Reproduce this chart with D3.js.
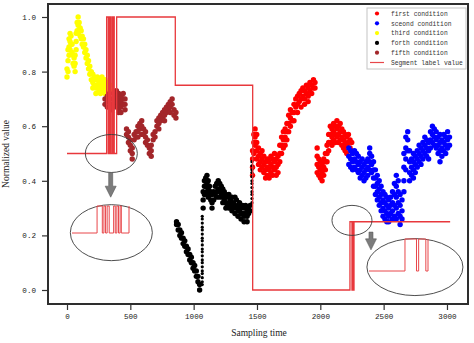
<!DOCTYPE html>
<html>
<head>
<meta charset="utf-8">
<script src="https://cdn.jsdelivr.net/npm/d3@7"></script>
<style>
  body { margin: 0; background: #fff; }
  svg { display: block; }
</style>
</head>
<body>
<svg id="chart" width="474" height="343"></svg>
<script>
// ---- axis ticks and legend text ----
const xTicks = [0, 500, 1000, 1500, 2000, 2500, 3000];
const yTicks = [0.0, 0.2, 0.4, 0.6, 0.8, 1.0];
const seriesNames = ["first condition", "sceond condition", "third condition", "forth condition", "fifth condition"];
const seriesColors = ["#ff0000", "#0000ff", "#ffff00", "#000000", "#a3262a"];
const lineName = "Segment label value";

// ---- samples: each row is [sampling time, value, value, ...] ----
const firstCondition = [
  [1465,0.42,0.45,0.48,0.51],[1475,0.54,0.57,0.50],[1485,0.59,0.56,0.53],[1498,0.57,0.54,0.51,0.48],
  [1512,0.52,0.49,0.46],[1526,0.50,0.47,0.44],[1540,0.48,0.45,0.51],[1554,0.46,0.43,0.49],
  [1568,0.47,0.44,0.41],[1582,0.45,0.42,0.48],[1596,0.47,0.44,0.41],[1610,0.46,0.43,0.49],
  [1624,0.48,0.45,0.42],[1638,0.47,0.44,0.50],[1652,0.45,0.42,0.48],[1666,0.49,0.46,0.43],
  [1680,0.53,0.50,0.47],[1694,0.56,0.53,0.50],[1708,0.58,0.55,0.52],[1722,0.59,0.56,0.53],
  [1736,0.61,0.58,0.55],[1750,0.64,0.61,0.58],[1764,0.66,0.63,0.60],[1778,0.65,0.62],
  [1792,0.68,0.65,0.62],[1806,0.70,0.67],[1820,0.71,0.68,0.65],[1834,0.72,0.69],
  [1848,0.73,0.70,0.67],[1862,0.74,0.71],[1876,0.73,0.70,0.68],[1890,0.75,0.72],
  [1904,0.74,0.71,0.69],[1918,0.76,0.73],[1932,0.75,0.72],[1946,0.77,0.74],[1958,0.76,0.74],
  [1975,0.52,0.49,0.46,0.43],[1988,0.48,0.45,0.42],[2001,0.47,0.44,0.41],[2014,0.46,0.43,0.40],
  [2027,0.45,0.42,0.48],[2040,0.47,0.44,0.50],[2053,0.50,0.53,0.47],[2066,0.54,0.51,0.57],
  [2079,0.57,0.54,0.60],[2092,0.59,0.56,0.53],[2105,0.61,0.58,0.55],[2118,0.60,0.57,0.54],
  [2131,0.62,0.59,0.56],[2144,0.60,0.57,0.54],[2157,0.61,0.58,0.55],[2170,0.59,0.56,0.53],
  [2183,0.58,0.55,0.52],[2196,0.57,0.54,0.51],[2209,0.56,0.53,0.50],[2222,0.57,0.54],
  [2235,0.55,0.52],[2248,0.54,0.51]
];
const secondCondition = [
  [2225,0.49,0.46,0.52],[2240,0.48,0.45,0.51],[2255,0.50,0.47,0.44],[2270,0.48,0.45,0.51],
  [2285,0.47,0.44,0.50],[2300,0.46,0.43,0.49],[2315,0.47,0.44,0.41],[2330,0.45,0.42,0.48],
  [2345,0.46,0.43,0.40],[2360,0.47,0.44,0.41],[2375,0.45,0.42,0.48],[2390,0.50,0.47,0.52,0.44],
  [2405,0.49,0.46,0.43],[2420,0.47,0.44,0.41,0.38],[2435,0.44,0.41,0.38,0.35],[2450,0.42,0.39,0.36,0.33],
  [2465,0.40,0.37,0.34,0.31],[2480,0.38,0.35,0.32,0.29],[2495,0.36,0.33,0.30,0.27],[2510,0.35,0.32,0.29,0.26],
  [2525,0.34,0.31,0.28,0.25],[2540,0.33,0.30,0.27,0.25],[2555,0.34,0.31,0.28],[2570,0.36,0.32,0.29,0.26],
  [2585,0.39,0.35,0.31,0.27],[2600,0.42,0.38,0.34,0.30,0.26],[2615,0.40,0.36,0.32,0.28],[2630,0.35,0.31,0.27,0.24],
  [2645,0.33,0.29,0.26],[2660,0.40,0.45,0.50,0.36],[2675,0.48,0.52,0.56,0.44],[2690,0.55,0.58,0.51],
  [2705,0.47,0.43,0.40,0.51],[2720,0.45,0.42,0.48],[2735,0.44,0.47,0.50,0.41],[2750,0.46,0.49,0.43],
  [2765,0.48,0.51,0.45],[2780,0.50,0.53,0.47],[2795,0.49,0.52,0.46],[2810,0.51,0.54,0.48],
  [2825,0.53,0.50,0.56],[2840,0.52,0.49,0.55],[2855,0.51,0.54,0.48],[2870,0.55,0.52,0.58],
  [2885,0.57,0.54,0.60],[2900,0.56,0.53,0.59],[2915,0.55,0.52,0.58],[2930,0.56,0.53,0.50],
  [2945,0.57,0.54,0.51,0.47],[2960,0.55,0.52,0.49],[2975,0.54,0.51,0.57],[2990,0.56,0.53,0.50],
  [3005,0.58,0.55,0.52],[3020,0.56,0.53]
];
const thirdCondition = [
  [0,0.78,0.81],[8,0.84,0.88,0.80],[16,0.89,0.86,0.92],[24,0.91,0.94,0.88],[32,0.93,0.90],
  [40,0.90,0.87],[48,0.86,0.83],[56,0.82,0.85],[64,0.80,0.83,0.86],[72,0.88,0.91,0.94],
  [80,0.95,0.98],[88,1.00,0.97,0.94],[96,0.98,0.95],[104,0.96,0.93],[112,0.95,0.92],
  [120,0.93,0.90],[130,0.92,0.89],[140,0.90,0.87],[150,0.88,0.85],[160,0.86,0.83],
  [170,0.84,0.81],[180,0.82,0.79],[192,0.80,0.77],[204,0.79,0.76,0.74],[216,0.78,0.75],
  [228,0.77,0.74,0.72],[240,0.78,0.75],[252,0.76,0.73],[264,0.77,0.74,0.72],[276,0.78,0.75],
  [288,0.76,0.73],[300,0.77,0.74,0.72],[312,0.75,0.73],[326,0.76,0.74],[340,0.75,0.73]
];
const forthCondition = [
  [865,0.25,0.24],[878,0.24,0.22],[891,0.22,0.20],[904,0.21,0.19],[917,0.19,0.17],
  [930,0.18,0.16],[943,0.16,0.14],[956,0.15,0.13],[969,0.13,0.11],[982,0.12,0.10],
  [995,0.10,0.08],[1008,0.09,0.07],[1021,0.07,0.05],[1034,0.05,0.03],[1047,0.02,0.00],
  [1075,0.30,0.33,0.36],[1085,0.38,0.35,0.40],[1095,0.41,0.38],[1105,0.42,0.39,0.36],
  [1115,0.40,0.37,0.34],[1125,0.38,0.35],[1135,0.36,0.33],[1145,0.35,0.32,0.30],
  [1158,0.36,0.33],[1170,0.38,0.35],[1182,0.39,0.36,0.34],[1194,0.40,0.37],
  [1206,0.39,0.36,0.34],[1218,0.38,0.35],[1230,0.37,0.34,0.32],[1242,0.36,0.33],
  [1254,0.35,0.32,0.30],[1266,0.34,0.31],[1278,0.35,0.32,0.30],[1290,0.33,0.31],
  [1302,0.34,0.31,0.29],[1314,0.32,0.30],[1326,0.34,0.31,0.28],[1338,0.33,0.30],
  [1350,0.31,0.29,0.27],[1362,0.32,0.29],[1374,0.30,0.28,0.26],[1386,0.31,0.28],
  [1398,0.30,0.27,0.25],[1410,0.31,0.28],[1422,0.29,0.27,0.25],[1434,0.30,0.28],[1446,0.31,0.29]
];
// fast transitions of the fourth condition, sampled densely
const forthTransitions = [
  [1068,0.02,0.03,0.045,0.06,0.07,0.085,0.10,0.11,0.125,0.14,0.15,0.165,0.18,0.19,0.205,0.22,0.23,0.245,0.26,0.27],
  [1460,0.32,0.335,0.35,0.36,0.375,0.39,0.40,0.415,0.43,0.44,0.455,0.47]
];
const fifthCondition = [
  [300,0.70,0.68],[318,0.71,0.69,0.67],[336,0.72,0.70],[354,0.70,0.68,0.66],[372,0.72,0.70,0.68],
  [390,0.73,0.71,0.69,0.67],[408,0.72,0.70,0.68,0.66,0.65],[426,0.71,0.69,0.67,0.65],
  [444,0.72,0.70,0.68],[458,0.70,0.68,0.66],
  [470,0.59,0.57],[485,0.58,0.56,0.54],[500,0.55,0.53,0.51],[515,0.52,0.50,0.48],[530,0.55,0.57],
  [545,0.58,0.56],[560,0.60,0.58,0.56],[575,0.61,0.59],[590,0.62,0.60,0.57],[605,0.59,0.57],
  [620,0.58,0.56,0.54],[635,0.55,0.53],[650,0.52,0.50],[665,0.51,0.49,0.53],[680,0.55,0.57],
  [695,0.58,0.56],[710,0.60,0.62],[725,0.63,0.61,0.59],[740,0.64,0.62],[755,0.65,0.63],
  [770,0.66,0.64,0.62],[785,0.67,0.65],[800,0.68,0.66],[815,0.69,0.67,0.65],[830,0.70,0.68],
  [845,0.66,0.64],[860,0.65,0.63]
];

// ---- segment label (step function: value holds from segX[i] to segX[i+1]) ----
const segX = [0, 313, 326, 330, 334, 338, 343, 354, 358, 362, 366, 370, 373, 392, 855, 1466,
              2234, 2250, 2253, 2263, 2266, 3025];
const segY = [0.5, 1.0, 0.5, 1.0, 0.5, 1.0, 0.5, 1.0, 0.5, 1.0, 0.5, 1.0, 0.5, 1.0, 0.75, 0.0,
              0.25, 0.0, 0.25, 0.0, 0.25, 0.25];

// ---- layout ----
const svg = d3.select("#chart");
const frame = { left: 48, top: 4, right: 468, bottom: 304 };
const x = d3.scaleLinear().domain([-150, 3166]).range([frame.left, frame.right]);
const y = d3.scaleLinear().domain([-0.0513, 1.0476]).range([frame.bottom, frame.top]);

const flatten = rows => rows.flatMap(r => r.slice(1).map(v => [r[0], v]));
const segPoints = segX.map((d, i) => [d, segY[i]]);

// axes
const tickFont = "'Liberation Mono', 'DejaVu Sans Mono', monospace";
const gx = svg.append("g").attr("transform", `translate(0,${frame.bottom})`)
  .call(d3.axisBottom(x).tickValues(xTicks).tickFormat(d3.format("d")).tickSize(6).tickPadding(4));
const gy = svg.append("g").attr("transform", `translate(${frame.left},0)`)
  .call(d3.axisLeft(y).tickValues(yTicks).tickFormat(d3.format(".1f")).tickSize(6).tickPadding(6));
[gx, gy].forEach(g => {
  g.select(".domain").remove();
  g.selectAll(".tick line").attr("stroke", "#333").attr("stroke-width", 1.2);
  g.selectAll(".tick text").attr("fill", "#222").style("font-family", tickFont).style("font-size", "7.6px");
});

// scatter layers
const layers = [firstCondition, secondCondition, thirdCondition, forthCondition, fifthCondition];
const plot = svg.append("g");
layers.forEach((rows, i) => {
  plot.append("g").selectAll("circle").data(flatten(rows)).join("circle")
    .attr("cx", d => x(d[0])).attr("cy", d => y(d[1])).attr("r", 2.7)
    .attr("fill", seriesColors[i]);
  if (i === 3) {
    plot.append("g").selectAll("circle").data(flatten(forthTransitions)).join("circle")
      .attr("cx", d => x(d[0])).attr("cy", d => y(d[1])).attr("r", 1.6)
      .attr("fill", seriesColors[3]);
  }
});

// segment label line
const stepLine = (sx, sy) => d3.line().x(d => sx(d[0])).y(d => sy(d[1])).curve(d3.curveStepAfter);
plot.append("path").datum(segPoints)
  .attr("d", stepLine(x, y)).attr("fill", "none")
  .attr("stroke", "#e8383c").attr("stroke-width", 1.3);

// magnified views of the segment label transitions
function windowPoints(x0, x1) {
  const pts = [];
  let prev = segY[0];
  segX.forEach((sx, i) => { if (sx <= x0) prev = segY[i]; });
  pts.push([x0, prev]);
  segX.forEach((sx, i) => { if (sx > x0 && sx <= x1) pts.push([sx, segY[i]]); });
  return pts;
}
const anno = svg.append("g");
const ellipseStroke = "#3a3a3a";

// left transition zone
anno.append("ellipse").attr("cx", x(350)).attr("cy", y(0.5)).attr("rx", 26).attr("ry", 19)
  .attr("fill", "none").attr("stroke", ellipseStroke).attr("stroke-width", 0.9);
anno.append("ellipse").attr("cx", x(350)).attr("cy", y(0.21)).attr("rx", 41).attr("ry", 28)
  .attr("fill", "none").attr("stroke", ellipseStroke).attr("stroke-width", 0.9);
const lxs = d3.scaleLinear().domain([251, 392]).range([72, 129]);
const lys = d3.scaleLinear().domain([0.5, 1.0]).range([233, 206]);
anno.append("path").datum(windowPoints(251, 392))
  .attr("d", stepLine(lxs, lys)).attr("fill", "none")
  .attr("stroke", "#e8464a").attr("stroke-width", 1);

// right transition zone
anno.append("ellipse").attr("cx", x(2250)).attr("cy", y(0.255)).attr("rx", 20).attr("ry", 15)
  .attr("fill", "none").attr("stroke", ellipseStroke).attr("stroke-width", 0.9);
anno.append("ellipse").attr("cx", x(2747)).attr("cy", y(0.084)).attr("rx", 48).attr("ry", 28.5)
  .attr("fill", "none").attr("stroke", ellipseStroke).attr("stroke-width", 0.9);
const rxs = d3.scaleLinear().domain([2184, 2266]).range([369, 428]);
const rys = d3.scaleLinear().domain([0, 0.25]).range([271, 239]);
anno.append("path").datum(windowPoints(2184, 2266))
  .attr("d", stepLine(rxs, rys)).attr("fill", "none")
  .attr("stroke", "#e8464a").attr("stroke-width", 1);

// arrows pointing from each zone to its magnified view
function arrow(cx, top, bottom) {
  const shaftW = 2, headW = 5.5, headH = 11;
  const p = d3.path();
  p.moveTo(cx - shaftW, top); p.lineTo(cx + shaftW, top);
  p.lineTo(cx + shaftW, bottom - headH); p.lineTo(cx + headW, bottom - headH);
  p.lineTo(cx, bottom); p.lineTo(cx - headW, bottom - headH);
  p.lineTo(cx - shaftW, bottom - headH); p.closePath();
  anno.append("path").attr("d", p.toString())
    .attr("fill", "#7c7c7c").attr("stroke", "#5a5a5a").attr("stroke-width", 0.6);
}
arrow(x(345), y(0.43), y(0.34));
arrow(x(2400), y(0.212), y(0.147));

// frame
svg.append("rect")
  .attr("x", frame.left).attr("y", frame.top)
  .attr("width", frame.right - frame.left).attr("height", frame.bottom - frame.top)
  .attr("fill", "none").attr("stroke", "#2e2e2e").attr("stroke-width", 2);

// axis titles
svg.append("text").attr("x", 259).attr("y", 336).attr("text-anchor", "middle")
  .style("font-family", "'Liberation Serif', 'DejaVu Serif', serif").style("font-size", "9.5px")
  .attr("fill", "#222").text("Sampling time");
svg.append("text").attr("transform", "translate(9,154) rotate(-90)").attr("text-anchor", "middle")
  .style("font-family", "'Liberation Serif', 'DejaVu Serif', serif").style("font-size", "9.5px")
  .attr("fill", "#222").text("Normalized value");

// legend
const legend = svg.append("g");
legend.append("rect").attr("x", 367).attr("y", 8).attr("width", 99).attr("height", 61)
  .attr("fill", "#fff").attr("stroke", "#c4c4c4").attr("stroke-width", 1);
const rowY = i => 13.5 + i * 9.8;
seriesNames.forEach((name, i) => {
  legend.append("circle").attr("cx", 377).attr("cy", rowY(i)).attr("r", 2.1).attr("fill", seriesColors[i]);
  legend.append("text").attr("x", 391).attr("y", rowY(i)).attr("dy", "0.35em")
    .style("font-family", tickFont).style("font-size", "6.3px").attr("fill", "#333").text(name);
});
legend.append("line").attr("x1", 370).attr("x2", 384).attr("y1", rowY(5)).attr("y2", rowY(5))
  .attr("stroke", "#e8464a").attr("stroke-width", 1.2);
legend.append("text").attr("x", 391).attr("y", rowY(5)).attr("dy", "0.35em")
  .style("font-family", tickFont).style("font-size", "6.3px").attr("fill", "#333").text(lineName);
</script>
</body>
</html>
